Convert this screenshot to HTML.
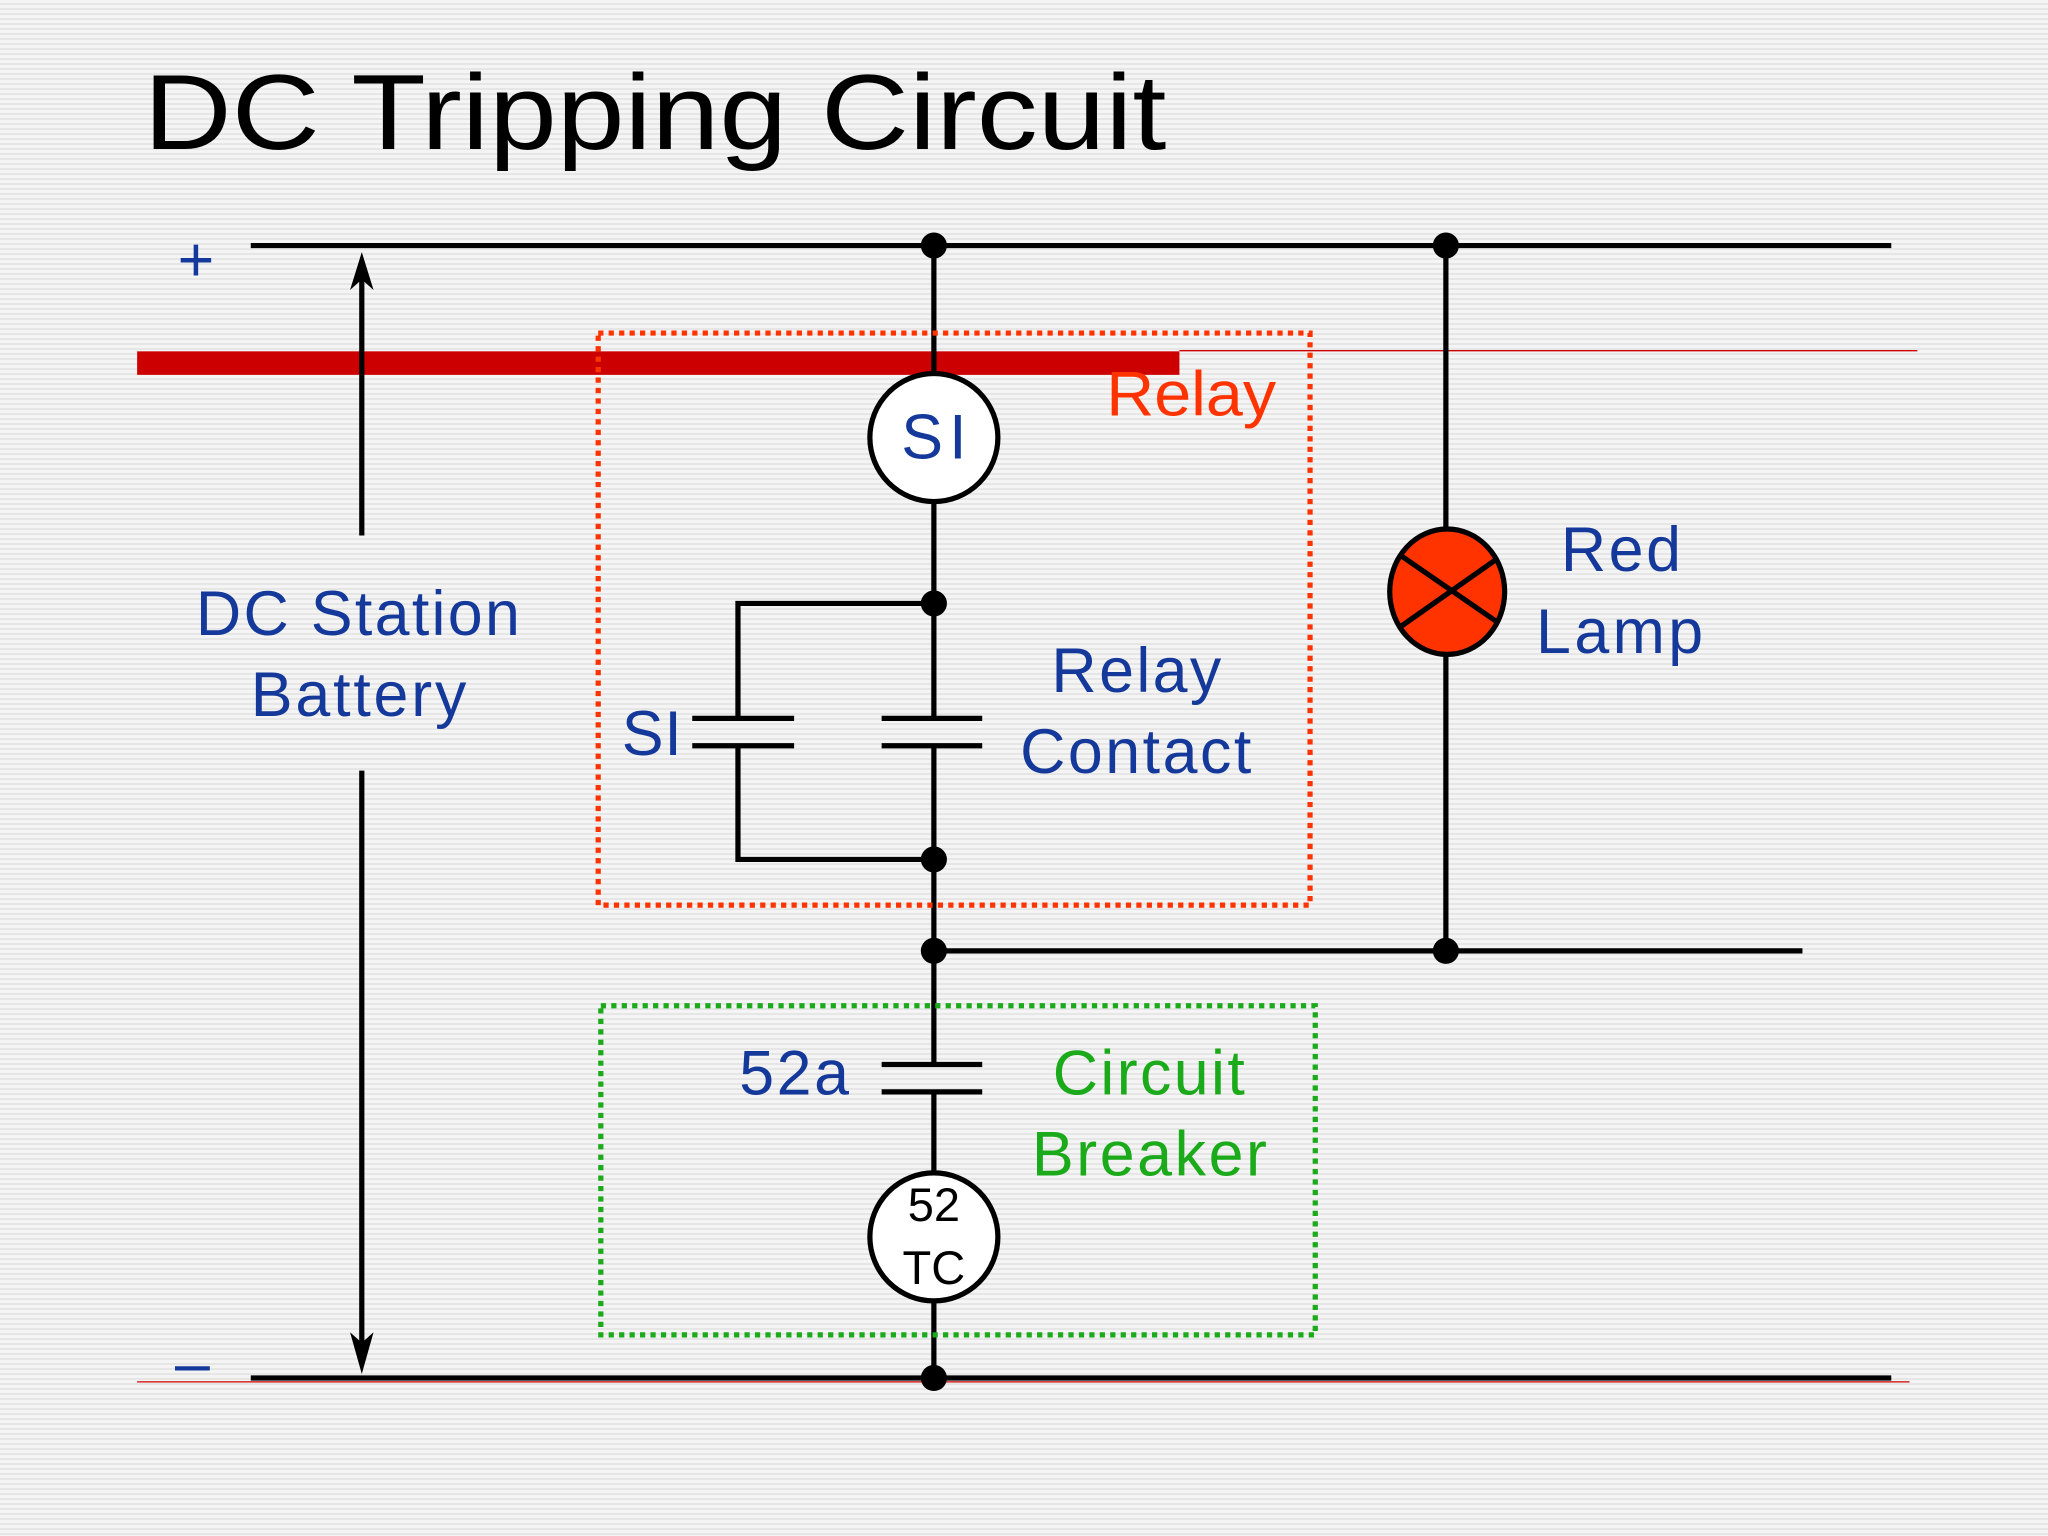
<!DOCTYPE html>
<html><head><meta charset="utf-8"><style>
html,body{margin:0;padding:0;}
body{width:2048px;height:1536px;overflow:hidden;background:#fbfbfb repeating-linear-gradient(180deg,#f4f4f4 0,#f4f4f4 3px,#e6e6e6 3px,#e6e6e6 5px);}
svg{display:block}
text{font-family:"Liberation Sans",sans-serif;}
</style></head><body>
<svg width="2048" height="1536" viewBox="0 0 1568 1176" xmlns="http://www.w3.org/2000/svg">
<text x="110" y="114" font-size="82" fill="#000" textLength="783" lengthAdjust="spacingAndGlyphs">DC Tripping Circuit</text>
<rect x="105" y="269" width="798" height="18" fill="#cc0000"/>
<line x1="903" y1="268.5" x2="1468" y2="268.5" stroke="#cc0000" stroke-width="1"/>
<line x1="105" y1="1058" x2="1462" y2="1058" stroke="#cc0000" stroke-width="1"/>
<g stroke="#000" stroke-width="4" fill="none">
<line x1="192" y1="188" x2="1448" y2="188"/>
<line x1="192" y1="1055" x2="1448" y2="1055"/>
<line x1="277" y1="200" x2="277" y2="410"/>
<line x1="277" y1="590" x2="277" y2="1042"/>
<line x1="715" y1="188" x2="715" y2="286"/>
<line x1="715" y1="384" x2="715" y2="550"/>
<line x1="715" y1="571" x2="715" y2="815"/>
<line x1="715" y1="836" x2="715" y2="898"/>
<line x1="715" y1="996" x2="715" y2="1055"/>
<polyline points="715,462 565,462 565,550"/>
<polyline points="565,571 565,658 715,658"/>
<line x1="530" y1="550" x2="608" y2="550"/>
<line x1="530" y1="571" x2="608" y2="571"/>
<line x1="675" y1="550" x2="752" y2="550"/>
<line x1="675" y1="571" x2="752" y2="571"/>
<line x1="675" y1="815" x2="752" y2="815"/>
<line x1="675" y1="836" x2="752" y2="836"/>
<line x1="715" y1="728" x2="1380" y2="728"/>
<line x1="1107" y1="188" x2="1107" y2="405"/>
<line x1="1107" y1="501" x2="1107" y2="728"/>
<circle cx="715" cy="335" r="49" fill="#fff"/>
<circle cx="715" cy="947" r="49" fill="#fff"/>
<ellipse cx="1108" cy="453" rx="44" ry="48" fill="#ff3300"/>
<line x1="1072" y1="425" x2="1146" y2="476"/>
<line x1="1072" y1="480" x2="1146" y2="428"/>
</g>
<polygon points="277,193 268,222 277,214 286,222" fill="#000"/>
<polygon points="277,1052 268,1020 277,1028 286,1020" fill="#000"/>
<g fill="#000">
<circle cx="715" cy="188" r="10"/><circle cx="1107" cy="188" r="10"/>
<circle cx="715" cy="462" r="10"/><circle cx="715" cy="658" r="10"/>
<circle cx="715" cy="728" r="10"/><circle cx="1107" cy="728" r="10"/>
<circle cx="715" cy="1055" r="10"/>
</g>
<rect x="458" y="255" width="545" height="438" fill="none" stroke="#ff3300" stroke-width="4" stroke-dasharray="4,4"/>
<rect x="460" y="770" width="547" height="252" fill="none" stroke="#1aaa1a" stroke-width="4" stroke-dasharray="4,4"/>
<g fill="#15399a" font-size="48" lengthAdjust="spacingAndGlyphs">
<text x="136" y="215" font-size="48">+</text>
<text x="134" y="1060" font-size="48">–</text>
<text x="150" y="486" textLength="248">DC Station</text>
<text x="192" y="548" textLength="165">Battery</text>
<text x="690" y="351" textLength="50">SI</text>
<text x="476" y="578" textLength="46">SI</text>
<text x="805" y="530" textLength="130">Relay</text>
<text x="781" y="592" textLength="177">Contact</text>
<text x="1195" y="437" textLength="92">Red</text>
<text x="1176" y="500" textLength="128">Lamp</text>
<text x="566" y="838" textLength="84">52a</text>
</g>
<text x="847" y="318" font-size="48" fill="#ff3300" textLength="130" lengthAdjust="spacingAndGlyphs">Relay</text>
<g fill="#1aaa1a" font-size="48" lengthAdjust="spacingAndGlyphs">
<text x="806" y="838" textLength="147">Circuit</text>
<text x="790" y="900" textLength="180">Breaker</text>
</g>
<g fill="#000" font-size="36" text-anchor="middle">
<text x="715" y="935">52</text>
<text x="715" y="983">TC</text>
</g>
</svg>
</body></html>
